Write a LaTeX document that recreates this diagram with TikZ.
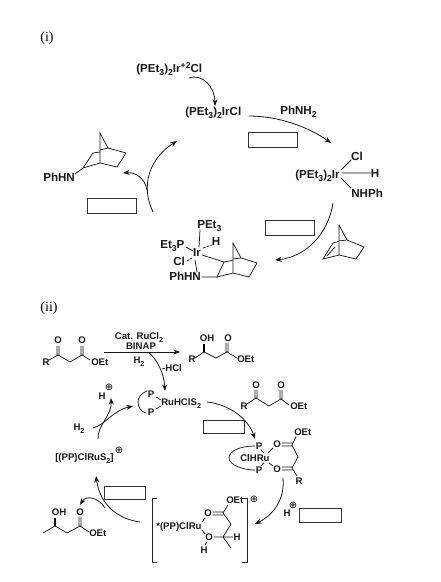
\documentclass[tikz,border=0pt]{standalone}
\usepackage{fontspec}
\setmainfont{Liberation Sans}
\newfontfamily\serifr{Liberation Serif}
\newfontfamily\dvu{DejaVu Sans}
\usetikzlibrary{arrows.meta}
\newcommand{\txtsz}{\fontsize{8.7}{9}\selectfont}
\newcommand{\subsz}{\fontsize{6.5}{6.5}\selectfont}
\newcommand{\sbt}[1]{\raisebox{-.5ex}{\subsz #1}}
\newcommand{\spt}[1]{\raisebox{.7ex}{\subsz #1}}
\newcommand{\plusc}{{\dvu\fontsize{7.5}{7.5}\selectfont ⊕}}
\tikzset{
  txt/.style={inner sep=0pt,yshift=-.6pt,font=\txtsz\bfseries,text=black!90},
  tw/.style={txt,anchor=base west},
  tc/.style={txt,anchor=base},
  roman/.style={inner sep=0pt,font=\fontsize{10.5}{11}\selectfont\serifr,anchor=base},
  pl/.style={inner sep=0pt,anchor=center},
  bond/.style={line width=.55pt,draw=black!90,line cap=round},
  wedge/.style={line width=1.4pt,draw=black,line cap=butt},
  arw/.style={line width=.6pt,draw=black!90,-{Stealth[length=5pt,width=3.8pt]}},
  emptybox/.style={draw=black!80,line width=.7pt,fill=white,inner sep=0pt},
  brack/.style={line width=.7pt,draw=black!85}
}
\begin{document}
\begin{tikzpicture}[x=.75pt,y=-.75pt]
\path[use as bounding box,fill=white] (0,0) rectangle (440,582);
% ---------- labels
\node[roman] (li) at (47,41) {(i)};
\node[roman] (lii) at (49,311) {(ii)};
% ---------- part (i) species
\node[tw] (irtwo) at (136,72) {(PEt\sbt{3})\sbt{2}Ir\spt{+2}Cl};
\node[tw] (ircl) at (185,115) {(PEt\sbt{3})\sbt{2}IrCl};
\node[tw] (phnh) at (280,114) {PhNH\sbt{2}};
\node[tw] (irm) at (295,178) {(PEt\sbt{3})\sbt{2}Ir};
\node[tc] (cla) at (357,160) {Cl};
\node[tc] (ha) at (375,177) {H};
\node[tw] (nhph) at (351,197) {NHPh};
\draw[bond] (341,170)--(351,160) (342,173)--(371,173) (341,178)--(351,188);
\node[tw] (phhna) at (43,181) {PhHN};
\draw[bond] (75,174)--(83,168)--(93,153)--(100,152) (83,168)--(100,163)--(100,133)--(108,148)--(126,153)--(117,167)--(100,163) (100,150)--(108,148);
% norbornene
\draw[bond] (339,225)--(339,255)--(356,259)--(364,247)--(347,240)--(339,225) (339,255)--(323,259)--(333,243)--(338,241.5) (340,240.8)--(347,240) (327,256)--(335,247);
% iridium complex
\node[tw] (pet) at (197,228) {PEt\sbt{3}};
\node[tw] (etp) at (160,248) {Et\sbt{3}P};
\node[tc] (hb) at (216,245) {H};
\node[tc] (irb) at (197,256) {Ir};
\node[tw] (clb) at (173,265) {Cl};
\node[tw] (phhnb) at (169,280) {PhHN};
\draw[bond] (200,230)--(199,247) (186,247)--(193,251) (195,260)--(197,272) (202,277)--(217,277) (202,255)--(224,262);
\draw[bond,dash pattern=on 2pt off 1pt] (203,248)--(212,245) (187,261)--(192,258);
\draw[bond] (217,277)--(224,262)--(232,260.5) (217,277)--(233,273)--(233,243)--(241,258)--(257,263)--(249,277)--(233,273) (234,258.8)--(241,258);
% boxes part (i)
\node[emptybox,minimum width=36.75pt,minimum height=11.25pt] (boxa) at (272.5,139.5) {};
\node[emptybox,minimum width=36.75pt,minimum height=11.25pt] (boxb) at (289.5,227.5) {};
\node[emptybox,minimum width=36.75pt,minimum height=11.25pt] (boxc) at (111.5,205.5) {};
% arrows part (i)
\coordinate (a1s) at (189,78); \coordinate (a1e) at (215,106);
\coordinate (a2s) at (249,116); \coordinate (a2e) at (331,143);
\coordinate (a3s) at (333,203); \coordinate (a3e) at (275,260);
\coordinate (a4s) at (153,212); \coordinate (a4e) at (177,141);
\coordinate (a5s) at (147,190); \coordinate (a5e) at (123,173);
\draw[arw] (a1s) .. controls (203,73) and (215,88) .. (a1e);
\draw[arw] (a2s) .. controls (280,116) and (310,128) .. (a2e);
\draw[arw] (a3s) .. controls (328,235) and (305,257) .. (a3e);
\draw[arw] (a4s) .. controls (140,185) and (150,158) .. (a4e);
\draw[arw] (a5s) .. controls (145,178) and (135,172) .. (a5e);
% ---------- part (ii)
\begin{scope}
\renewcommand{\txtsz}{\fontsize{7.2}{8}\selectfont}
\renewcommand{\subsz}{\fontsize{5.4}{5.4}\selectfont}
\node[tc] (ra) at (46,365) {R};
\node[tc] (oa) at (58,343) {O};
\node[tc] (ob) at (82,343) {O};
\node[tw] (oea) at (91,365) {OEt};
\draw[bond] (49,360)--(58,355)--(70,362)--(82,355)--(90,360) (57,346)--(57,355) (59,346)--(59,355) (81,346)--(81,355) (83,346)--(83,355);
\node[tc] (cat) at (139,339) {Cat. RuCl\sbt{2}};
\node[tc] (binap) at (141,349) {BINAP};
\node[tc] (hh) at (139,363) {H\sbt{2}};
\node[tc] (hcl) at (172,371) {-HCl};
\coordinate (b1s) at (104,352); \coordinate (b1e) at (180,352);
\draw[arw] (b1s)--(b1e);
\coordinate (b2s) at (148,352); \coordinate (b2e) at (165,391);
\draw[arw] (b2s) .. controls (156,358) and (164,372) .. (b2e);
\node[tc] (rb) at (192,362) {R};
\node[tc] (ohb) at (207,341) {OH};
\node[tc] (oc) at (228,341) {O};
\node[tw] (oeb) at (237,362) {OEt};
\draw[bond] (195,358)--(204,352)--(216,358)--(227,352)--(237,358) (226,343)--(226,352) (228,343)--(228,352);
\draw[wedge] (204,352)--(204,343.5);
% ketoester right
\node[tc] (rc) at (244,409) {R};
\node[tc] (od) at (256,388) {O};
\node[tc] (oe) at (281,388) {O};
\node[tw] (oec) at (290,409) {OEt};
\draw[bond] (247,404)--(256,398)--(269,406)--(281,399)--(289,405) (255,390)--(255,398) (257,390)--(257,398) (280,390)--(280,399) (282,390)--(282,399);
% Ru hydride
\node[tc] (pa) at (151,397) {P};
\node[tc] (pb) at (151,415) {P};
\node[tw] (ruh) at (161,405) {RuHClS\sbt{2}};
\draw[bond] (156,397)--(161,400) (156,409)--(161,406);
\draw[bond] (147,391) .. controls (141,393) and (138,398) .. (138,402) .. controls (138,407) and (141,412) .. (146,413);
\node[tc] (hp) at (102,399) {H};
\node[pl] (hpc) at (109,387) {\plusc};
\node[tc] (hhb) at (79,430) {H\sbt{2}};
\node[tw] (pprs) at (55,460) {[(PP)ClRuS\sbt{2}]};
\node[pl] (pprc) at (119,450) {\plusc};
\coordinate (c1s) at (98,439); \coordinate (c1e) at (111,398);
\coordinate (c2s) at (93,428); \coordinate (c2e) at (133,406);
\draw[arw] (c1s) .. controls (97,426) and (112,415) .. (c1e);
\draw[arw] (c2s) .. controls (105,425) and (112,411) .. (c2e);
% box + arrow to Ru chelate
\node[emptybox,minimum width=30.75pt,minimum height=9.75pt] (boxd) at (223.5,426.5) {};
\coordinate (d1s) at (207,402); \coordinate (d1e) at (255,439);
\draw[arw] (d1s) .. controls (228,404) and (248,418) .. (d1e);
% Ru chelate
\node[tc] (pc) at (259,449) {P};
\node[tc] (pd) at (259,473) {P};
\node[tw] (clru) at (240,461) {ClHRu};
\node[tc] (of) at (277,447) {O};
\node[tc] (og) at (277,472) {O};
\node[tw] (oed) at (294,435) {OEt};
\node[tc] (rd) at (299,484) {R};
\draw[bond] (261,450)--(264,453) (261,466)--(264,463) (268,453)--(273,448) (269,463)--(273,466);
\draw[bond] (282,443)--(292,443) (282,446)--(292,446) (292,445)--(296,437) (292,445)--(298,457)--(292,468)--(297,476) (282,467)--(292,467) (282,470)--(292,470);
\draw[bond] (255,446) .. controls (240,446) and (229,451) .. (229,458) .. controls (229,465) and (243,470) .. (255,470);
% arrow to cation
\coordinate (e1s) at (283,478); \coordinate (e1e) at (255,524);
\draw[arw] (e1s) .. controls (285,500) and (273,515) .. (e1e);
\node[tc] (hq) at (287,516) {H};
\node[pl] (hqc) at (293,505) {\plusc};
\node[emptybox,minimum width=31.5pt,minimum height=10.5pt] (boxe) at (320,515) {};
% bracketed cation
\draw[brack] (157,498)--(152,498)--(152,562)--(157,562);
\draw[brack] (242,498)--(247,498)--(247,562)--(242,562);
\node[pl] (brc) at (254,499) {\plusc};
\node[tw] (ppru) at (156,529) {*(PP)ClRu};
\node[tc] (oh1) at (208,516) {O};
\node[tc] (oh2) at (209,540) {O};
\node[tc] (hr) at (204,553) {H};
\node[tc] (hs) at (237,540) {H};
\node[tw] (oee) at (226,503) {OEt};
\draw[bond] (202,522)--(205,518) (202,530)--(205,534) (213,512)--(223,512) (213,515)--(223,515) (223,513)--(228,505) (223,513)--(231,524)--(223,537)--(233,537) (214,537)--(223,537) (223,537)--(231,548) (207,542)--(205,545);
% lower product
\node[tc] (ohc) at (59,515) {OH};
\node[tc] (oi) at (80,515) {O};
\node[tw] (oef) at (89,536) {OEt};
\draw[bond] (43,533)--(55,526)--(67,533)--(80,526)--(89,532) (79,517)--(79,526) (81,517)--(81,526);
\draw[wedge] (55,526)--(55,517.5);
% lower arrows
\node[emptybox,minimum width=30.75pt,minimum height=9.75pt] (boxf) at (124.5,493) {};
\coordinate (f1s) at (140,522); \coordinate (f1e) at (96,476);
\coordinate (f2s) at (105,508); \coordinate (f2e) at (80,505);
\draw[arw] (f1s) .. controls (118,519) and (100,505) .. (f1e);
\draw[arw] (f2s) .. controls (98,497) and (86,495) .. (f2e);
\end{scope}
\end{tikzpicture}
\end{document}
